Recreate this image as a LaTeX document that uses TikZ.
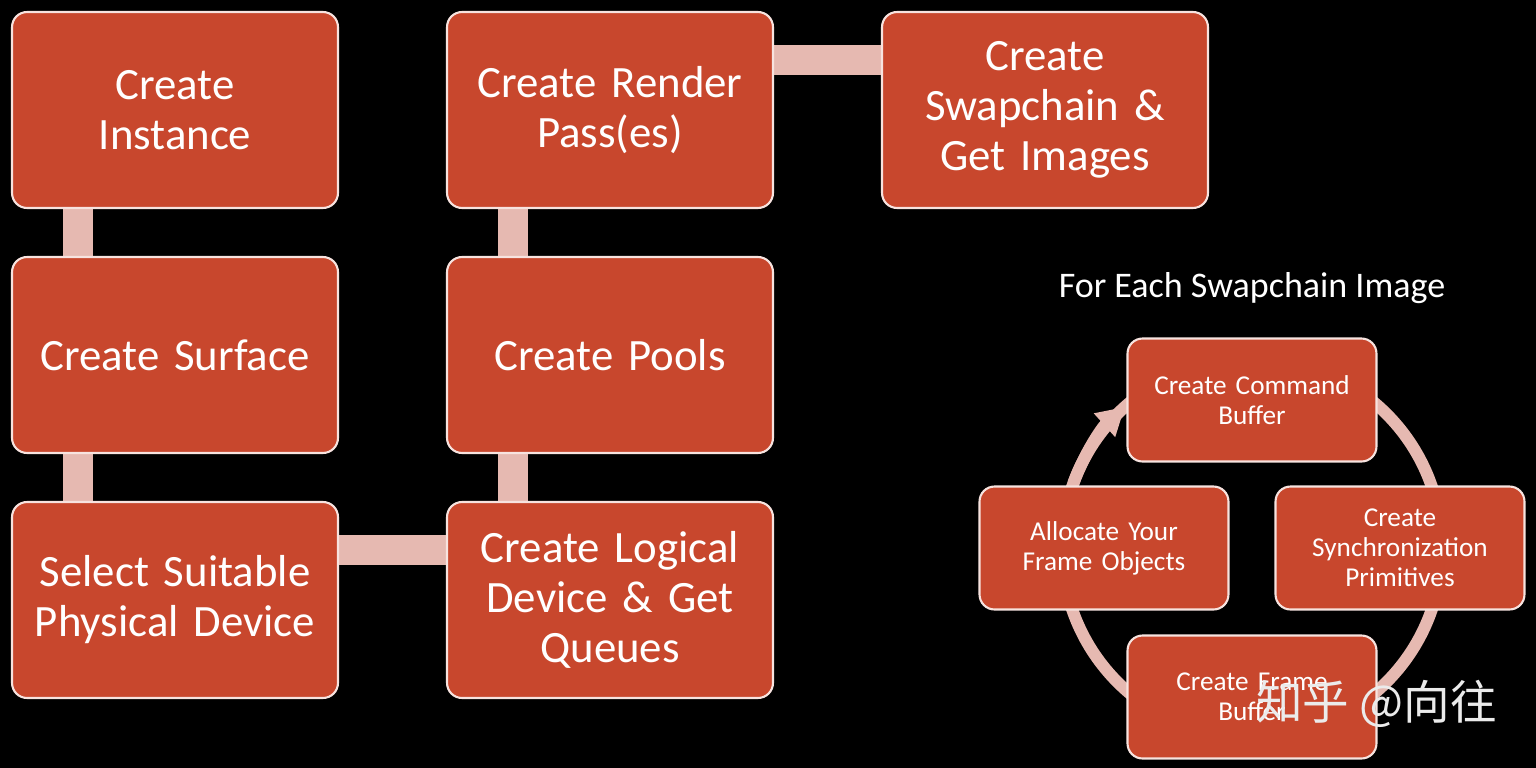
\documentclass[tikz,border=0pt]{standalone}
\usepackage{fontspec}
\setmainfont{Carlito}
\newfontfamily\cjk{Noto Sans CJK SC}
\usetikzlibrary{arrows.meta}
\definecolor{boxred}{HTML}{C8472D}
\definecolor{link}{HTML}{E6B9B1}
\begin{document}
\begin{tikzpicture}[x=0.02cm,y=-0.02cm,
  big/.style={draw=white!85!boxred,line width=1.2pt,fill=boxred,rounded corners=0.3cm,
    minimum width=6.52cm,minimum height=3.92cm,text width=6.4cm,align=center,
    text=white,font=\fontsize{25.5}{28.5}\selectfont,inner sep=0pt},
  small/.style={draw=white!85!boxred,line width=1.2pt,fill=boxred,rounded corners=0.3cm,
    minimum width=4.98cm,minimum height=2.46cm,text width=4.9cm,align=center,
    text=white,font=\fontsize{15.5}{17}\selectfont,inner sep=0pt},
  bar/.style={link,line width=0.6cm}]
\fill[black] (0,0) rectangle (1536,768);
\draw[bar] (78,208) -- (78,257);
\draw[bar] (78,453) -- (78,502);
\draw[bar] (338,550) -- (447,550);
\draw[bar] (513,453) -- (513,502);
\draw[bar] (513,208) -- (513,257);
\draw[bar] (773,60) -- (881,60);
\node[big] (inst) at (175,110) {Create\\Instance};
\node[big] (surf) at (175,355) {Create Surface};
\node[big] (phys) at (175,600) {Select Suitable\\Physical Device};
\node[big] (logi) at (610,600) {Create Logical\\Device \& Get\\Queues};
\node[big] (pool) at (610,355) {Create Pools};
\node[big] (rend) at (610,110) {Create Render\\Pass(es)};
\node[big] (swap) at (1045,110) {Create\\Swapchain \&\\Get Images};
\node[white,font=\fontsize{20.5}{24}\selectfont] (title) at (1252,288) {For Each Swapchain Image};
\coordinate (cc) at (1252,548);
\draw[link,line width=0.24cm] (cc) circle (3.8cm);
\draw[link,line width=0.24cm,-{Triangle[length=0.55cm,width=0.6cm]}] ([shift={(160:3.8cm)}]cc) arc (160:132:3.8cm);
\node[small] (cmd) at (1252,400) {Create Command\\Buffer};
\node[small] (sync) at (1400,548) {Create\\Synchronization\\Primitives};
\node[small] (fb) at (1252,697) {Create Frame\\Buffer};
\node[small] (alloc) at (1104,548) {Allocate Your\\Frame Objects};
\node[text=white!92!black,font=\cjk\fontsize{26.5}{30}\selectfont,anchor=west] (wm) at (1250,704) {知乎 @向往};
\end{tikzpicture}
\end{document}
